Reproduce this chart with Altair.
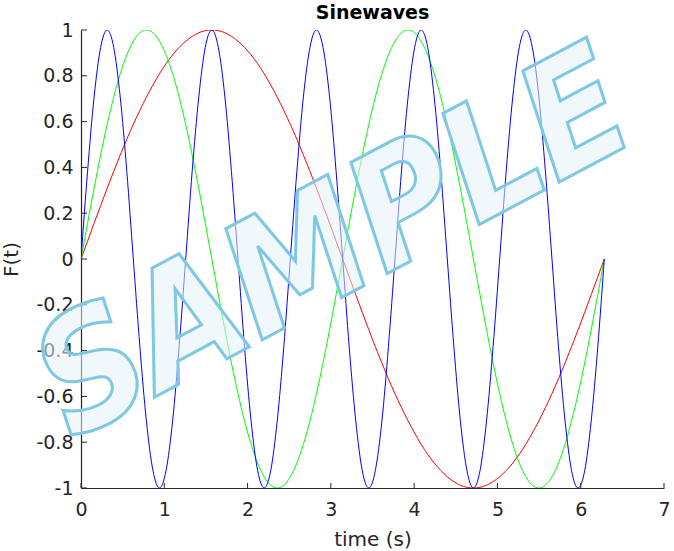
import altair as alt
import pandas as pd

# sample times (s)
t = [0, .079, .157, .236, .314, .393, .471, .550, .628, .707, .785, .864, .942, 1.021,
     1.100, 1.178, 1.257, 1.335, 1.414, 1.492, 1.571, 1.649, 1.728, 1.806, 1.885, 1.963,
     2.042, 2.121, 2.199, 2.278, 2.356, 2.435, 2.513, 2.592, 2.670, 2.749, 2.827, 2.906,
     2.985, 3.063, 3.142, 3.220, 3.299, 3.377, 3.456, 3.534, 3.613, 3.691, 3.770, 3.848,
     3.927, 4.006, 4.084, 4.163, 4.241, 4.320, 4.398, 4.477, 4.555, 4.634, 4.712, 4.791,
     4.869, 4.948, 5.027, 5.105, 5.184, 5.262, 5.341, 5.419, 5.498, 5.576, 5.655, 5.733,
     5.812, 5.890, 5.969, 6.048, 6.126, 6.205, 6.283]

# slow wave (red)
f_red = [0, .078, .156, .233, .309, .383, .454, .523, .588, .649, .707, .760, .809, .853, .891, .924, .951, .972, .988, .997, 1,
         .997, .988, .972, .951, .924, .891, .853, .809, .760, .707, .649, .588, .523, .454, .383, .309, .233, .156, .078, 0,
         -.078, -.156, -.233, -.309, -.383, -.454, -.523, -.588, -.649, -.707, -.760, -.809, -.853, -.891, -.924, -.951, -.972, -.988, -.997, -1,
         -.997, -.988, -.972, -.951, -.924, -.891, -.853, -.809, -.760, -.707, -.649, -.588, -.523, -.454, -.383, -.309, -.233, -.156, -.078, 0]

# medium wave (green)
f_green = [0, .156, .309, .454, .588, .707, .809, .891, .951, .988, 1, .988, .951, .891, .809, .707, .588, .454, .309, .156,
           0, -.156, -.309, -.454, -.588, -.707, -.809, -.891, -.951, -.988, -1, -.988, -.951, -.891, -.809, -.707, -.588, -.454, -.309, -.156,
           0, .156, .309, .454, .588, .707, .809, .891, .951, .988, 1, .988, .951, .891, .809, .707, .588, .454, .309, .156,
           0, -.156, -.309, -.454, -.588, -.707, -.809, -.891, -.951, -.988, -1, -.988, -.951, -.891, -.809, -.707, -.588, -.454, -.309, -.156,
           0]

# fast wave (blue)
f_blue = [0, .383, .707, .924, 1, .924, .707, .383, 0, -.383, -.707, -.924, -1, -.924, -.707, -.383,
          0, .383, .707, .924, 1, .924, .707, .383, 0, -.383, -.707, -.924, -1, -.924, -.707, -.383,
          0, .383, .707, .924, 1, .924, .707, .383, 0, -.383, -.707, -.924, -1, -.924, -.707, -.383,
          0, .383, .707, .924, 1, .924, .707, .383, 0, -.383, -.707, -.924, -1, -.924, -.707, -.383,
          0, .383, .707, .924, 1, .924, .707, .383, 0, -.383, -.707, -.924, -1, -.924, -.707, -.383,
          0]

x_ticks = [0, 1, 2, 3, 4, 5, 6, 7]
y_ticks = [-1, -0.8, -0.6, -0.4, -0.2, 0, 0.2, 0.4, 0.6, 0.8, 1]

W, H = 583, 458
AX = "#262626"

rows = []
for name, vals in [("red", f_red), ("green", f_green), ("blue", f_blue)]:
    for ti, v in zip(t, vals):
        rows.append({"t": ti, "F": v, "wave": name})
df = pd.DataFrame(rows)

xs = alt.Scale(domain=[0, 7], nice=False)
ys = alt.Scale(domain=[-1, 1], nice=False)

x_axis = alt.Axis(values=x_ticks, tickSize=0, labelPadding=12, grid=False, labelFlush=False,
                  labelExpr="datum.value + ''", titlePadding=10)
y_axis = alt.Axis(values=y_ticks, tickSize=0, labelPadding=8, grid=False, labelFlush=False,
                  labelExpr="datum.value + ''", titlePadding=14)

lines = alt.Chart(df).mark_line(strokeWidth=1, interpolate="monotone", clip=True).encode(
    x=alt.X("t:Q", scale=xs, title="time (s)", axis=x_axis),
    y=alt.Y("F:Q", scale=ys, title="F(t)", axis=y_axis),
    color=alt.Color("wave:N", legend=None,
                    scale=alt.Scale(domain=["red", "green", "blue"],
                                    range=["#ff0000", "#00ff00", "#0000ff"])),
    detail="wave:N",
)

# inward tick marks
xt = alt.Chart(pd.DataFrame({"v": x_ticks})).mark_rule(color=AX, strokeWidth=1).encode(
    x=alt.X("v:Q", scale=xs, axis=x_axis, title="time (s)"),
    y=alt.value(H), y2=alt.value(H - 5))
yt = alt.Chart(pd.DataFrame({"v": y_ticks})).mark_rule(color=AX, strokeWidth=1).encode(
    y=alt.Y("v:Q", scale=ys, axis=y_axis, title="F(t)"),
    x=alt.value(0), x2=alt.value(6))

# chart heading, drawn as a text mark centred over the plot
heading = alt.Chart(pd.DataFrame({"s": ["Sinewaves"]})).mark_text(
    font="DejaVu Sans", fontSize=19, fontWeight="bold", color="#000000",
    align="center", baseline="alphabetic",
).encode(text="s:N", x=alt.value(W / 2), y=alt.value(-11))

stamp = alt.Chart(pd.DataFrame({"s": ["SAMPLE"]})).mark_text(
    font="DejaVu Sans Condensed", fontSize=158, fontStyle="italic", fontWeight="bold",
    angle=332, align="center", baseline="middle",
    fill="#e6f3fa", fillOpacity=0.55, stroke="#7ec8e3", strokeWidth=3,
).encode(text="s:N", x=alt.value(254), y=alt.value(218))

chart = alt.layer(lines, xt, yt, stamp, heading).properties(
    width=W, height=H,
    background="white",
    autosize=alt.AutoSizeParams(type="none"),
    padding={"left": 81, "top": 30, "right": 10, "bottom": 63},
).configure_view(stroke=None).configure_axis(
    domainColor=AX, domainWidth=1.2, labelColor=AX, titleColor=AX,
    labelFont="DejaVu Sans", titleFont="DejaVu Sans",
    labelFontSize=19, titleFontSize=20, titleFontWeight="normal",
)

chart.save("out.html", embed_options={"renderer": "svg", "actions": False})
